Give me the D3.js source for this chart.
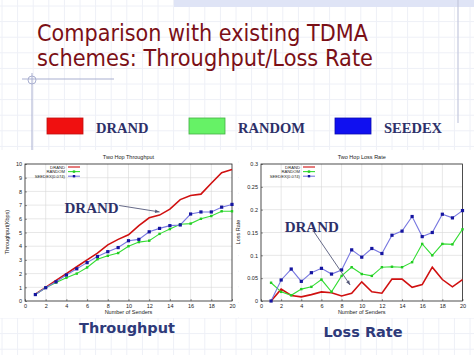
<!DOCTYPE html>
<html><head><meta charset="utf-8">
<script src="https://cdn.jsdelivr.net/npm/d3@7"></script>
<style>html,body{margin:0;padding:0;background:#fff;overflow:hidden}</style>
</head><body><svg id="c" width="474" height="355"></svg>
<script>
const senders = d3.range(1, 21);
const seriesNames = ["DRAND", "RANDOM", "SEEDEX"];
const chartLegendNames = ["DRAND", "RANDOM", "SEEDEX(0.074)"];
const throughputDRAND  = [0.5,1.0,1.5,2.0,2.5,3.0,3.5,4.1,4.5,4.83,5.5,6.07,6.27,6.7,7.4,7.7,7.8,8.6,9.37,9.6];
const throughputRANDOM = [0.47,0.97,1.35,1.7,2.0,2.45,3.05,3.3,3.5,4.0,4.3,4.4,4.9,5.25,5.6,5.65,6.0,6.2,6.55,6.55];
const throughputSEEDEX = [0.47,0.97,1.4,1.9,2.35,2.8,3.25,3.6,3.9,4.4,4.5,5.05,5.3,5.5,5.55,6.35,6.5,6.5,6.85,7.05];
const lossDRAND  = [0,0.026,0.012,0.009,0.014,0.02,0.018,0.011,0.017,0.042,0.02,0.017,0.048,0.048,0.03,0.036,0.074,0.047,0.031,0.047];
const lossRANDOM = [0.04,0.02,0.0125,0.026,0.031,0.047,0.02,0.055,0.074,0.059,0.055,0.074,0.075,0.074,0.085,0.125,0.1,0.125,0.124,0.157];
const lossSEEDEX = [0,0.046,0.07,0.043,0.062,0.0715,0.059,0.068,0.112,0.096,0.115,0.104,0.144,0.153,0.185,0.141,0.15,0.19,0.182,0.198];
const xTicks = d3.range(0, 21, 2);
const throughputTicks = d3.range(0, 11, 1);
const lossTicks = [0, 0.05, 0.1, 0.15, 0.2, 0.25, 0.3];

const svg = d3.select("#c");
// slide background: grid paper
const bg = svg.append("g");
for (let x = 2; x < 474; x += 15.6) bg.append("line").attr("x1", x).attr("x2", x).attr("y1", 0).attr("y2", 355).attr("stroke", "#eef0f7").attr("stroke-width", 1);
for (let y = 6; y < 355; y += 15.6) bg.append("line").attr("x1", 0).attr("x2", 474).attr("y1", y).attr("y2", y).attr("stroke", "#eef0f7").attr("stroke-width", 1);
bg.append("rect").attr("x", 174).attr("y", 0).attr("width", 300).attr("height", 7).attr("fill", "#dfe4f6");
bg.append("line").attr("x1", 458).attr("x2", 458).attr("y1", 0).attr("y2", 123).attr("stroke", "#c4c8de").attr("stroke-width", 1.2);
bg.append("line").attr("x1", 32).attr("x2", 32).attr("y1", 73).attr("y2", 193).attr("stroke", "#a9afd0").attr("stroke-width", 1);
bg.append("line").attr("x1", 22).attr("x2", 114).attr("y1", 79).attr("y2", 79).attr("stroke", "#a9afd0").attr("stroke-width", 1);
bg.append("circle").attr("cx", 32).attr("cy", 80).attr("r", 4).attr("fill", "none").attr("stroke", "#a9afd0");

// title
const title = svg.append("g").attr("fill", "#7b0f16").attr("font-family", "'DejaVu Sans', sans-serif").attr("font-size", 22.5);
title.append("text").attr("x", 37).attr("y", 41).attr("textLength", 331).attr("lengthAdjust", "spacingAndGlyphs").text("Comparison with existing TDMA");
title.append("text").attr("x", 37).attr("y", 65.5).attr("textLength", 336).attr("lengthAdjust", "spacingAndGlyphs").text("schemes: Throughput/Loss Rate");

// big legend
const swatchFill = ["#f01010", "#66f266", "#1010f0"];
const swatchStroke = ["#c01010", "#44b044", "#0a0ab0"];
const legX = [47, 189, 335];
seriesNames.forEach((n, i) => {
  svg.append("rect").attr("x", legX[i]).attr("y", 118).attr("width", 36).attr("height", 16).attr("fill", swatchFill[i]).attr("stroke", swatchStroke[i]).attr("stroke-width", 0.8);
  svg.append("text").attr("x", legX[i] + 49).attr("y", 133).attr("font-family", "'Liberation Serif', serif").attr("font-weight", "bold").attr("font-size", 14.5).attr("fill", "#2d3068").text(n);
});

const lineColors = ["#d01010", "#33dd33", "#7777e0"];
const markColors = ["#d01010", "#22cc22", "#1515a0"];

function drawChart(opts) {
  const g = svg.append("g");
  g.append("rect").attr("x", opts.imgX).attr("y", 150).attr("width", opts.imgW).attr("height", 168).attr("fill", "#fff");
  const x = d3.scaleLinear().domain([0, 20]).range(opts.xr);
  const y = d3.scaleLinear().domain(opts.yd).range([301, 164]);
  // grid
  g.selectAll(".gx").data(xTicks.slice(1, -1)).join("line").attr("x1", d => x(d)).attr("x2", d => x(d)).attr("y1", 301).attr("y2", 164).attr("stroke", "#d6d6d6").attr("stroke-width", 0.6);
  g.selectAll(".gy").data(opts.ticks.slice(1, -1)).join("line").attr("y1", d => y(d)).attr("y2", d => y(d)).attr("x1", opts.xr[0]).attr("x2", opts.xr[1]).attr("stroke", "#d6d6d6").attr("stroke-width", 0.6);
  // axes
  const ax = g.append("g").attr("transform", "translate(0,301)").call(d3.axisBottom(x).tickValues(xTicks).tickSize(-2).tickPadding(3).tickFormat(d3.format("d")));
  const ay = g.append("g").attr("transform", `translate(${opts.xr[0]},0)`).call(d3.axisLeft(y).tickValues(opts.ticks).tickSize(-2).tickPadding(3).tickFormat(opts.fmt));
  [ax, ay].forEach(a => {
    a.select(".domain").remove();
    a.selectAll("text").attr("font-size", 5.5).attr("font-family", "'Liberation Sans', sans-serif").attr("fill", "#222");
    a.selectAll("line").attr("stroke", "#333").attr("stroke-width", 0.5);
  });
  g.append("rect").attr("x", opts.xr[0]).attr("y", 164).attr("width", opts.xr[1] - opts.xr[0]).attr("height", 137).attr("fill", "none").attr("stroke", "#222").attr("stroke-width", 0.8);
  // titles
  const mid = (opts.xr[0] + opts.xr[1]) / 2;
  g.append("text").attr("x", mid).attr("y", 158.5).attr("text-anchor", "middle").attr("font-size", 5.5).attr("font-family", "'Liberation Sans', sans-serif").attr("fill", "#222").text(opts.title);
  g.append("text").attr("x", mid).attr("y", 314).attr("text-anchor", "middle").attr("font-size", 5.5).attr("font-family", "'Liberation Sans', sans-serif").attr("fill", "#222").text("Number of Senders");
  g.append("text").attr("transform", `translate(${opts.ylabX},232) rotate(-90)`).attr("text-anchor", "middle").attr("font-size", 5.5).attr("font-family", "'Liberation Sans', sans-serif").attr("fill", "#222").text(opts.ylab);
  // series
  const line = d3.line().x((d, i) => x(senders[i])).y(d => y(d));
  opts.series.forEach((s, k) => {
    g.append("path").attr("d", line(s)).attr("fill", "none").attr("stroke", lineColors[k]).attr("stroke-width", k === 0 ? 1.6 : 1.1);
  });
  opts.series.forEach((s, k) => {
    if (k === 0) return;
    const sz = k === 2 ? 3.2 : 2.4;
    g.selectAll(null).data(s).join("rect").attr("x", (d, i) => x(senders[i]) - sz / 2).attr("y", d => y(d) - sz / 2).attr("width", sz).attr("height", sz).attr("fill", markColors[k]);
  });
  // inner legend
  chartLegendNames.forEach((n, k) => {
    const ly = 167 + k * 4.6;
    g.append("text").attr("x", opts.legX).attr("y", ly + 1.5).attr("text-anchor", "end").attr("font-size", 4.2).attr("font-family", "'Liberation Sans', sans-serif").attr("fill", "#222").text(n);
    g.append("line").attr("x1", opts.legX + 3).attr("x2", opts.legX + 15).attr("y1", ly).attr("y2", ly).attr("stroke", lineColors[k]).attr("stroke-width", 1.1);
    if (k > 0) g.append("rect").attr("x", opts.legX + 9 - 1.2).attr("y", ly - 1.2).attr("width", 2.4).attr("height", 2.4).attr("fill", markColors[k]);
  });
  // annotation
  const a = opts.ann;
  g.append("text").attr("x", x(a.tx)).attr("y", y(a.ty)).attr("text-anchor", a.anchor).attr("font-family", "'Liberation Serif', serif").attr("font-weight", "bold").attr("font-size", 15).attr("fill", "#2d3068").text("DRAND");
  const x1 = x(a.sx), y1 = y(a.sy), x2 = x(a.ex), y2 = y(a.ey);
  g.append("line").attr("x1", x1).attr("y1", y1).attr("x2", x2).attr("y2", y2).attr("stroke", "#55597a").attr("stroke-width", 0.9);
  const ang = Math.atan2(y2 - y1, x2 - x1), L = 4.5, W = 1.8;
  const bx = x2 - L * Math.cos(ang), by = y2 - L * Math.sin(ang);
  g.append("path").attr("d", `M${x2},${y2}L${bx - W * Math.sin(ang)},${by + W * Math.cos(ang)}L${bx + W * Math.sin(ang)},${by - W * Math.cos(ang)}Z`).attr("fill", "#55597a");
}

drawChart({
  imgX: 0, imgW: 238, xr: [25, 232], yd: [0, 10], ticks: throughputTicks, fmt: d3.format("d"),
  title: "Two Hop Throughput", ylab: "Throughput(Kbps)", ylabX: 9, legX: 65,
  series: [throughputDRAND, throughputRANDOM, throughputSEEDEX],
  ann: { tx: 9.05, ty: 6.42, anchor: "end", sx: 9.1, sy: 6.97, ex: 13, ey: 6.5 }
});
drawChart({
  imgX: 239, imgW: 235, xr: [261, 462.5], yd: [0, 0.3], ticks: lossTicks, fmt: d => d === 0 ? "0" : String(d),
  title: "Two Hop Loss Rate", ylab: "Loss Rate", ylabX: 239.5, legX: 300,
  series: [lossDRAND, lossRANDOM, lossSEEDEX],
  ann: { tx: 2.35, ty: 0.151, anchor: "start", sx: 5.15, sy: 0.155, ex: 8.85, ey: 0.035 }
});

// bottom captions
svg.append("text").attr("x", 127).attr("y", 333).attr("text-anchor", "middle").attr("font-family", "'DejaVu Sans', sans-serif").attr("font-weight", "bold").attr("font-size", 14.5).attr("fill", "#2e3a7a").text("Throughput");
svg.append("text").attr("x", 363).attr("y", 337).attr("text-anchor", "middle").attr("font-family", "'DejaVu Sans', sans-serif").attr("font-weight", "bold").attr("font-size", 14.5).attr("fill", "#2e3a7a").text("Loss Rate");
</script></body></html>
